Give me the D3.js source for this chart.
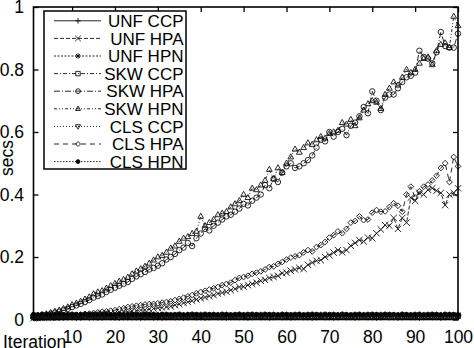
<!DOCTYPE html>
<html><head><meta charset="utf-8">
<script src="https://cdn.jsdelivr.net/npm/d3@7"></script>
<style>
html,body{margin:0;padding:0;background:#fff;}
svg{display:block;font-family:"Liberation Sans",Arial,Helvetica,sans-serif;}
</style></head>
<body>
<svg id="chart" width="474" height="348"></svg>
<script>
const seriesNames = ["UNF CCP","UNF HPA","UNF HPN","SKW CCP","SKW HPA","SKW HPN","CLS CCP","CLS HPA","CLS HPN"];
const xTicks = [10,20,30,40,50,60,70,80,90,100];
const yTicks = [0,0.2,0.4,0.6,0.8,1];
const xLabel = "Iteration";
const yLabel = "secs";

const unfCCP = [.006,.006,.007,.006,.007,.007,.006,.007,.007,.008,.007,.007,.008,.007,.008,.008,.007,.008,.008,.007,
.008,.008,.007,.008,.008,.009,.008,.008,.007,.008,.008,.009,.008,.008,.009,.008,.008,.009,.008,.009,
.009,.008,.009,.009,.008,.009,.009,.008,.009,.009,.009,.010,.009,.009,.010,.009,.009,.010,.009,.010,
.010,.009,.010,.010,.009,.010,.010,.009,.010,.010,.010,.011,.010,.010,.011,.010,.010,.011,.010,.011,
.011,.010,.011,.011,.010,.011,.011,.010,.011,.011,.011,.012,.011,.011,.012,.011,.011,.012,.011,.012];
const unfHPA = [.004,.005,.005,.006,.006,.007,.008,.008,.009,.010,.011,.012,.013,.014,.015,.016,.018,.019,.020,.021,
.023,.024,.025,.027,.028,.030,.031,.033,.035,.037,.038,.040,.042,.046,.049,.053,.056,.060,.064,.068,
.071,.075,.078,.083,.086,.089,.094,.098,.104,.105,.110,.114,.118,.124,.127,.133,.136,.140,.148,.150,
.156,.160,.165,.162,.175,.182,.188,.190,.200,.206,.214,.222,.215,.222,.236,.245,.254,.250,.262,.260,
.276,.288,.302,.300,.325,.290,.325,.310,.390,.380,.405,.400,.415,.420,.412,.405,.366,.400,.405,.420];
const unfHPN = [.013,.014,.013,.015,.014,.013,.015,.014,.014,.015,.013,.014,.015,.014,.013,.015,.014,.015,.014,.013,
.015,.014,.014,.015,.013,.014,.015,.014,.015,.014,.013,.015,.014,.014,.015,.013,.014,.015,.014,.015,
.014,.013,.015,.014,.014,.015,.013,.014,.015,.014,.015,.014,.013,.015,.014,.014,.015,.013,.014,.015,
.014,.015,.014,.013,.015,.014,.014,.015,.013,.014,.015,.014,.015,.014,.013,.015,.014,.014,.015,.013,
.014,.015,.014,.015,.014,.013,.015,.014,.014,.015,.013,.014,.015,.014,.015,.014,.013,.015,.014,.015];
const skwCCP = [.009,.010,.009,.010,.011,.010,.009,.010,.011,.010,.010,.011,.010,.009,.010,.011,.010,.010,.011,.010,
.009,.010,.011,.010,.010,.011,.010,.009,.010,.011,.010,.010,.011,.010,.009,.010,.011,.010,.010,.011,
.010,.009,.010,.011,.010,.010,.011,.010,.009,.010,.011,.010,.010,.011,.010,.009,.010,.011,.010,.010,
.011,.010,.009,.010,.011,.010,.010,.011,.010,.009,.010,.011,.010,.010,.011,.010,.009,.010,.011,.010,
.010,.011,.010,.009,.010,.011,.010,.010,.011,.010,.009,.010,.011,.010,.010,.011,.010,.009,.010,.011];
const skwHPA = [.008,.010,.012,.015,.018,.022,.025,.030,.034,.040,.045,.050,.056,.062,.070,.075,.080,.088,.095,.102,
.108,.114,.120,.130,.138,.145,.152,.160,.165,.172,.180,.192,.200,.210,.222,.230,.245,.235,.260,.275,
.290,.285,.300,.310,.320,.330,.335,.345,.355,.370,.365,.380,.390,.400,.430,.420,.450,.440,.470,.490,
.500,.485,.490,.500,.510,.525,.550,.575,.570,.600,.585,.600,.610,.590,.620,.630,.650,.680,.660,.730,
.700,.670,.710,.720,.720,.740,.760,.775,.780,.790,.860,.840,.835,.820,.855,.920,.875,.870,.870,.915];
const skwHPN = [.010,.012,.015,.018,.022,.026,.030,.035,.040,.047,.052,.058,.065,.072,.082,.088,.092,.100,.108,.115,
.122,.128,.135,.146,.155,.162,.170,.180,.190,.200,.205,.215,.228,.235,.250,.260,.265,.275,.282,.330,
.300,.310,.320,.335,.340,.345,.360,.370,.380,.400,.390,.420,.415,.430,.445,.480,.450,.485,.470,.500,
.520,.545,.535,.550,.565,.560,.575,.585,.580,.595,.600,.605,.630,.625,.640,.620,.645,.670,.690,.700,
.695,.675,.720,.740,.760,.750,.775,.800,.790,.800,.820,.835,.840,.815,.860,.880,.885,.870,.970,.940];
const clsCCP = [.008,.007,.008,.009,.008,.007,.008,.008,.009,.008,.007,.008,.009,.008,.008,.007,.008,.009,.008,.008,
.007,.008,.009,.008,.008,.007,.008,.009,.008,.008,.007,.008,.009,.008,.008,.007,.008,.009,.008,.008,
.007,.008,.009,.008,.008,.007,.008,.009,.008,.008,.007,.008,.009,.008,.008,.007,.008,.009,.008,.008,
.007,.008,.009,.008,.008,.007,.008,.009,.008,.008,.007,.008,.009,.008,.008,.007,.008,.009,.008,.008,
.007,.008,.009,.008,.008,.007,.008,.009,.008,.008,.007,.008,.009,.008,.008,.007,.008,.009,.008,.008];
const clsHPA = [.005,.006,.007,.008,.008,.009,.010,.011,.012,.013,.014,.016,.018,.019,.021,.023,.025,.026,.028,.030,
.033,.036,.040,.042,.044,.046,.048,.049,.050,.052,.054,.056,.058,.062,.066,.070,.074,.078,.084,.088,
.092,.096,.100,.104,.110,.114,.118,.126,.133,.136,.140,.146,.150,.154,.160,.168,.170,.178,.184,.192,
.198,.202,.206,.215,.222,.218,.232,.238,.248,.262,.270,.282,.276,.290,.310,.315,.330,.318,.320,.342,
.350,.345,.346,.360,.372,.364,.345,.400,.425,.390,.410,.425,.432,.445,.460,.485,.500,.440,.520,.490];
const clsHPN = [.016,.015,.017,.016,.015,.016,.017,.015,.016,.017,.016,.015,.017,.016,.016,.015,.017,.016,.015,.016,
.017,.015,.016,.017,.016,.015,.017,.016,.016,.015,.017,.016,.015,.016,.017,.015,.016,.017,.016,.015,
.017,.016,.016,.015,.017,.016,.015,.016,.017,.015,.016,.017,.016,.015,.017,.016,.016,.015,.017,.016,
.015,.016,.017,.015,.016,.017,.016,.015,.017,.016,.016,.015,.017,.016,.015,.016,.017,.015,.016,.017,
.016,.015,.017,.016,.016,.015,.017,.016,.015,.016,.017,.015,.016,.017,.016,.015,.017,.016,.016,.015];

const seriesValues = [unfCCP, unfHPA, unfHPN, skwCCP, skwHPA, skwHPN, clsCCP, clsHPA, clsHPN];
const iterations = d3.range(1, 101);

const markers = ["plus","cross","star","square","circle","triangle","triangleDown","diamond","dot"];
const dashes = [null,"4,2","2,1.5","4,2,1,2","6,2,1,2","3,2,1,2,1,2","1,2","5,4","1.5,1.5"];

const svg = d3.select("#chart");
const x = d3.scaleLinear().domain([1,100]).range([33.5,458]);
const y = d3.scaleLinear().domain([0,1]).range([319.5,7]);

function markerPath(type, s) {
  switch(type){
    case "plus": return `M${-s},0H${s}M0,${-s}V${s}`;
    case "cross": return `M${-s},${-s}L${s},${s}M${-s},${s}L${s},${-s}`;
    case "star": return `M${-s},0H${s}M0,${-s}V${s}M${-s*0.75},${-s*0.75}L${s*0.75},${s*0.75}M${-s*0.75},${s*0.75}L${s*0.75},${-s*0.75}`;
    case "square": return `M${-s*0.8},${-s*0.8}H${s*0.8}V${s*0.8}H${-s*0.8}Z`;
    case "circle": return `M${s*0.85},0A${s*0.85},${s*0.85} 0 1,1 ${-s*0.85},0A${s*0.85},${s*0.85} 0 1,1 ${s*0.85},0Z`;
    case "triangle": return `M0,${-s}L${s*0.9},${s*0.6}L${-s*0.9},${s*0.6}Z`;
    case "triangleDown": return `M0,${s}L${s*0.9},${-s*0.6}L${-s*0.9},${-s*0.6}Z`;
    case "diamond": return `M0,${-s*0.9}L${s*0.9},0L0,${s*0.9}L${-s*0.9},0Z`;
    case "dot": return `M${s*0.7},0A${s*0.7},${s*0.7} 0 1,1 ${-s*0.7},0A${s*0.7},${s*0.7} 0 1,1 ${s*0.7},0Z`;
  }
}

// data
const plot = svg.append("g");
const line = d3.line().x((d,i)=>x(iterations[i])).y(d=>y(d));
seriesValues.forEach((vals, k) => {
  plot.append("path").attr("d", line(vals))
    .attr("fill","none").attr("stroke","#111").attr("stroke-width",0.9)
    .attr("stroke-dasharray", dashes[k]);
});
seriesValues.forEach((vals, k) => {
  plot.selectAll(null).data(vals).enter().append("path")
    .attr("transform",(d,i)=>`translate(${x(iterations[i])},${y(d)})`)
    .attr("d", markerPath(markers[k], 3.2))
    .attr("fill", markers[k]==="dot" ? "#000" : "none")
    .attr("stroke","#111").attr("stroke-width",0.9);
});

// frame
const frame = svg.append("g");
frame.append("rect").attr("x",x(1)).attr("y",y(1)).attr("width",x(100)-x(1)).attr("height",y(0)-y(1))
  .attr("fill","none").attr("stroke","#000").attr("stroke-width",1.6);

// axes with inward ticks
const axB = d3.axisBottom(x).tickValues(xTicks).tickSize(-5).tickPadding(11).tickFormat(d3.format("d"));
const axT = d3.axisTop(x).tickValues(xTicks).tickSize(-5).tickFormat("");
const axL = d3.axisLeft(y).tickValues(yTicks).tickSize(-5).tickPadding(9.5).tickFormat(d=>d===0?"0":d===1?"1":d3.format(".1f")(d));
const axR = d3.axisRight(y).tickValues(yTicks).tickSize(-5).tickFormat("");
function style(g){
  g.select(".domain").remove();
  g.selectAll(".tick line").attr("stroke","#000").attr("stroke-width",1.3);
  g.selectAll(".tick text").attr("fill","#000").style("font-size","17.5px").style("font-family","'Liberation Sans',Arial,sans-serif");
}
svg.append("g").attr("transform",`translate(0,${y(0)})`).call(axB).call(style)
  .selectAll(".tick text").attr("dy","0.7em");
svg.append("g").attr("transform",`translate(0,${y(1)})`).call(axT).call(style);
svg.append("g").attr("transform",`translate(${x(1)},0)`).call(axL).call(style);
svg.append("g").attr("transform",`translate(${x(100)},0)`).call(axR).call(style);

// axis labels
svg.append("text").attr("x",3).attr("y",347.5).attr("fill","#000")
  .style("font-size","17.5px").text(xLabel);
svg.append("text").attr("transform","translate(12.5,158) rotate(-90)").attr("text-anchor","middle")
  .attr("fill","#000").style("font-size","17.5px").text(yLabel);

// legend
const lg = svg.append("g");
lg.append("rect").attr("x",44).attr("y",11).attr("width",142).attr("height",158)
  .attr("fill","#fff").attr("stroke","#000").attr("stroke-width",1.5);
seriesNames.forEach((name,k)=>{
  const cy = 20.8 + k*17.6;
  lg.append("line").attr("x1",54).attr("x2",101).attr("y1",cy).attr("y2",cy)
    .attr("stroke","#111").attr("stroke-width",0.9).attr("stroke-dasharray",dashes[k]);
  lg.append("path").attr("transform",`translate(78,${cy})`).attr("d",markerPath(markers[k],2.8))
    .attr("fill", markers[k]==="dot" ? "#000" : "none").attr("stroke","#111").attr("stroke-width",0.9);
  lg.append("text").attr("x",183.5).attr("y",cy+6.2).attr("text-anchor","end").attr("fill","#000")
    .style("font-size","17px").text(name);
});
</script>
</body></html>
